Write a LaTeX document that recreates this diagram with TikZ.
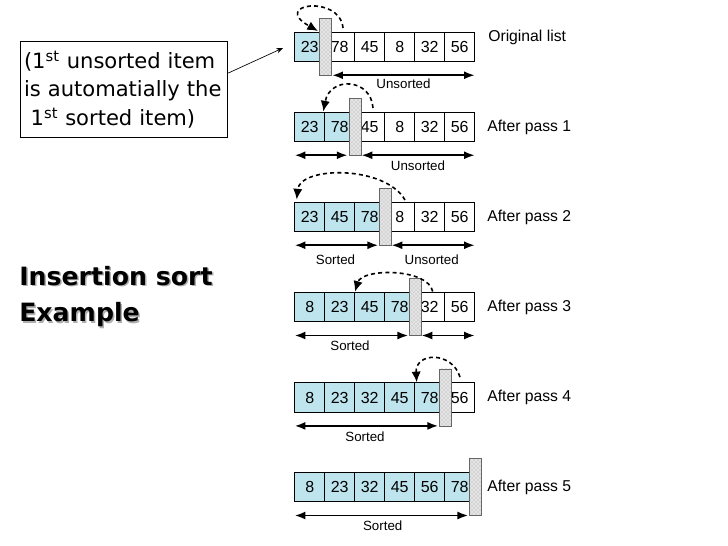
\documentclass[tikz,border=0pt]{standalone}
\usepackage{fontspec}
\setmainfont{Liberation Sans}
\newfontfamily\boxfont{DejaVu Sans}
\usetikzlibrary{arrows.meta,patterns,calc}
\definecolor{cellblue}{RGB}{190,228,238}
\definecolor{divgray}{RGB}{228,228,228}
\definecolor{shadowgray}{RGB}{175,175,175}
\begin{document}
\begin{tikzpicture}[x=0.75pt,y=-0.75pt,
  cell/.style={draw, line width=0.7pt, minimum width=22.5pt, minimum height=22.1pt,
    inner sep=0pt, outer sep=0pt, text height=8.6pt, text depth=0pt,
    font=\fontsize{12}{14}\selectfont},
  sortedcell/.style={cell, fill=cellblue},
  divider/.style={draw=gray!80!black, line width=0.6pt, preaction={fill=divgray},
    pattern=crosshatch dots, pattern color=gray!70, minimum width=8.6pt,
    minimum height=42.75pt, inner sep=0pt, outer sep=0pt},
  rowlabel/.style={anchor=base west, inner sep=0pt, font=\fontsize{11.8}{14}\selectfont},
  span/.style={line width=1.35pt, {Latex[length=8pt,width=6pt]}-{Latex[length=8pt,width=6pt]}},
  spanlbl/.style={inner sep=0pt, font=\fontsize{10}{12}\selectfont},
  move/.style={line width=1.2pt, dash pattern=on 3pt off 2.4pt, -{Latex[length=8pt,width=7pt]}},
  pointer/.style={line width=0.5pt, -{Stealth[length=5pt,width=4pt]}},
  titletext/.style={anchor=base west, inner sep=0pt, font=\boxfont\bfseries\fontsize{18.9}{23}\selectfont}
]
\useasboundingbox (0,0) rectangle (728,546);

% rows of cells
\foreach \r/\yc/\vals in {1/46.75/{23,78,45,8,32,56},
                          2/126.75/{23,78,45,8,32,56},
                          3/216.75/{23,45,78,8,32,56},
                          4/307/{8,23,45,78,32,56},
                          5/397.4/{8,23,32,45,78,56},
                          6/487/{8,23,32,45,56,78}} {
  \foreach \v [count=\c] in \vals {
    \ifnum\c>\r\relax \def\st{cell}\else\def\st{sortedcell}\fi
    \node[\st] (c\r-\c) at ({279.7+30*\c}, \yc) {\v};
  }
  \node[divider] (d\r) at ($(c\r-\r.east)+(0.5,0)$) {};
}

% row labels
\node[rowlabel] (l1) at (488,41) {Original list};
\node[rowlabel] (l2) at (487,131) {After pass 1};
\node[rowlabel] (l3) at (487,221) {After pass 2};
\node[rowlabel] (l4) at (487,311.3) {After pass 3};
\node[rowlabel] (l5) at (487,401.7) {After pass 4};
\node[rowlabel] (l6) at (487,491.3) {After pass 5};

% span arrows
\draw[span, shorten <=1pt] (d1.south east) -- (c1-6.east |- d1.south);
\draw[span, shorten >=1.5pt] (c2-1.west |- d2.south) -- (d2.south west);
\draw[span, shorten <=0.5pt] (d2.south east) -- (c2-6.east |- d2.south);
\draw[span, shorten >=1pt] (c3-1.west |- d3.south) -- (d3.south west);
\draw[span, shorten <=0.5pt] (d3.south east) -- (c3-6.east |- d3.south);
\draw[span, shorten >=1pt] (c4-1.west |- d4.south) -- (d4.south west);
\draw[span, shorten <=0.5pt] (d4.south east) -- (c4-6.east |- d4.south);
\draw[span, shorten >=1pt] (c5-1.west |- d5.south) -- (d5.south west);
\draw[span, shorten >=1pt] (c6-1.west |- d6.south) -- (d6.south west);

% span labels
\node[spanlbl] (u1) at (403.5,83.5) {Unsorted};
\node[spanlbl] (u2) at (418,165.8) {Unsorted};
\node[spanlbl] (s3) at (335.5,259.5) {Sorted};
\node[spanlbl] (u3) at (431.7,259.5) {Unsorted};
\node[spanlbl] (s4) at (350,345.8) {Sorted};
\node[spanlbl] (s5) at (365,437) {Sorted};
\node[spanlbl] (s6) at (382.7,525.3) {Sorted};

% insertion moves
\coordinate (m1a) at (343,28);   \coordinate (m1b) at (318,31);
\coordinate (m2a) at (373,108);  \coordinate (m2b) at (323.3,111.5);
\coordinate (m3a) at (405,200);  \coordinate (m3b) at (296.7,199.5);
\coordinate (m4a) at (432.7,291.5); \coordinate (m4b) at (355,291.7);
\coordinate (m5a) at (460,377);  \coordinate (m5b) at (416.7,382.3);
\draw[move] (m1a) .. controls (340,-6) and (270,4) .. (m1b);
\draw[move] (m2a) .. controls (371,78) and (330,76) .. (m2b);
\draw[move] (m3a) .. controls (385,165) and (300,166) .. (m3b);
\draw[move] (m4a) .. controls (428,268) and (362,268) .. (m4b);
\draw[move] (m5a) .. controls (452,351) and (415,352) .. (m5b);

% note box
\node[draw, line width=0.75pt, minimum width=155.25pt, minimum height=71.7pt,
      text width=150.25pt, inner xsep=2.5pt, align=left,
      font=\boxfont\fontsize{15.8}{21.5}\selectfont] (note) at (124.2,89.5)
  {(1\textsuperscript{st} unsorted item\\is automatially the\\\hspace*{5pt}1\textsuperscript{st} sorted item)};
\coordinate (ptr) at (283,48);
\draw[pointer] ($(note.north east)!0.33!(note.south east)$) -- (ptr);

% title with shadow
\node[titletext, text=shadowgray] (t1s) at (20.5,286.5) {Insertion sort};
\node[titletext, text=shadowgray] (t2s) at (20.5,323.2) {Example};
\node[titletext] (t1) at (19,285) {Insertion sort};
\node[titletext] (t2) at (19,321.7) {Example};
\end{tikzpicture}
\end{document}
